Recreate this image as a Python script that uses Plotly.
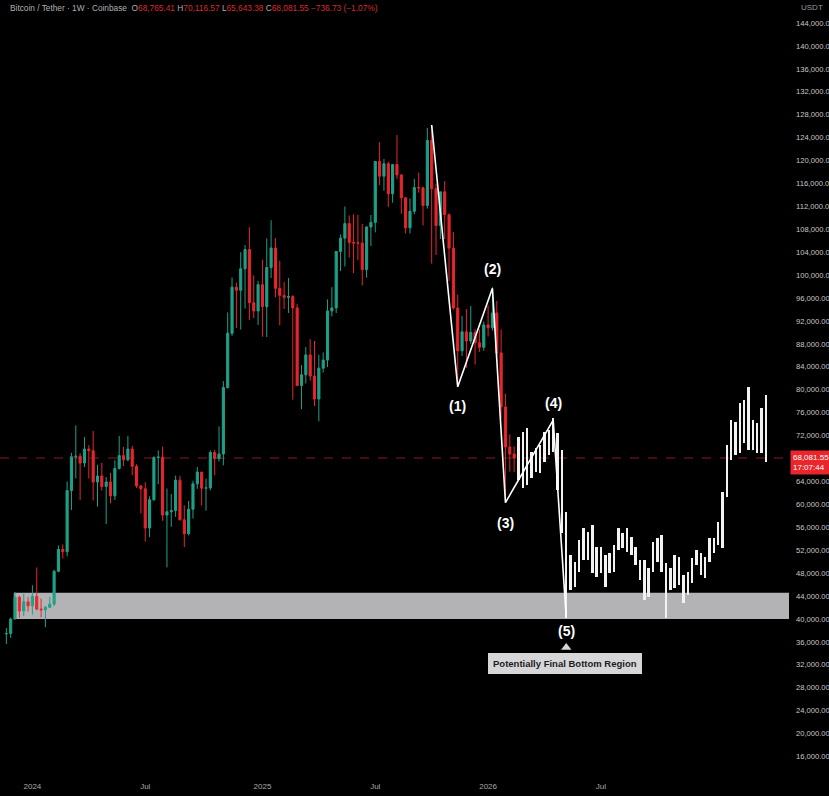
import pandas as pd
import plotly.graph_objects as go

# ---------------- data ----------------
candle_start = "2023-11-20"
opens = [37400, 37450, 39970, 43790, 41370, 42990,
         42280, 43930, 41730, 41580, 42030, 42580, 48300, 52140, 51730, 62390, 68300, 68390, 67210,
         69650, 69360, 63900, 64940, 63120, 63900, 61480, 66270, 68500, 67760, 69650, 66640, 63210,
         62700, 55860, 60790, 68160, 68250, 58120, 58710, 58920, 64220, 57300, 54870, 59130, 63580,
         65620, 62820, 62870, 69030, 67970, 68780, 80380, 89850, 97900, 97360, 101110, 104460, 95190,
         93740, 98330, 94500, 101330, 104730, 97690, 96460, 96120, 96260, 94270, 80730, 82600, 86080,
         82390, 78370, 83760, 85170, 93750, 94280, 104120, 106450, 109000, 105700, 105600, 105590,
         100960, 108390, 109200, 119840, 117270, 119450, 114200, 119290, 117490, 113490, 108250,
         111140, 115270, 115230, 112160, 123500, 115070, 108660, 114530, 110540, 104720, 94260,
         86800, 90100, 88500, 90000, 88200, 87400, 91300, 90800, 93400, 86400, 77000, 70000, 68765]
highs = [38400, 40250, 44700, 44040, 44400, 43800,
         45880, 48970, 43580, 42250, 43880, 48590, 52820, 52990, 64000, 69000, 73780, 68920, 71770,
         70330, 72800, 66900, 67250, 64750, 65500, 67700, 71950, 70000, 71950, 70200, 66990, 63380,
         63860, 61400, 68380, 69400, 70080, 62750, 61800, 65000, 64990, 59800, 60600, 64130, 66500,
         65650, 64480, 69400, 69520, 73600, 81500, 93480, 99590, 98700, 104000, 105250, 108350, 99960,
         99000, 102700, 106400, 109590, 106460, 102500, 98830, 99500, 96500, 95000, 84300, 87450,
         88800, 88500, 86100, 86500, 95760, 97900, 104150, 107100, 111980, 110420, 110600, 110530,
         108950, 108530, 110500, 119900, 123200, 120250, 119800, 119300, 124470, 117620, 113650,
         113380, 116800, 117900, 115450, 125700, 126200, 115970, 114000, 116400, 110760, 107500,
         96600, 92900, 94100, 94600, 90600, 90500, 91900, 94700, 97900, 95500, 90500, 79300, 72200, 70117]
lows = [35600, 36700, 39970, 40200, 40500, 41300,
        40750, 41500, 40280, 38550, 41880, 42250, 48150, 50520, 50900, 59000, 64550, 60760, 66500,
        64500, 60660, 59600, 62400, 56550, 60190, 60750, 66070, 66670, 67500, 65080, 62850, 58400,
        53500, 54260, 60630, 63500, 57120, 49000, 56070, 57800, 57200, 52550, 54580, 57500, 62700,
        59800, 58900, 62450, 65050, 67450, 66800, 80200, 89400, 90800, 90500, 94150, 92180, 92500,
        91300, 89250, 89200, 99500, 96150, 91230, 94090, 93400, 78260, 80600, 76600, 81100,
        81570, 77150, 74500, 83000, 83950, 92800, 93400, 100700, 101500, 103070, 100370, 102650,
        98200, 99550, 105080, 107460, 115700, 114720, 111920, 112650, 116800, 110700, 107260,
        107270, 110620, 114400, 108650, 111600, 102000, 103500, 106300, 106300, 98950, 94000,
        80600, 85900, 83800, 88000, 84400, 86600, 86800, 89300, 90300, 86000, 75000, 60300, 65700, 65643]
closes = [37450, 39970, 43790, 41370, 42990, 42280,
          43930, 41730, 41580, 42030, 42580, 48300, 52140, 51730, 62390, 68300, 68390, 67210, 69650,
          69360, 63900, 64940, 63120, 63900, 61480, 66270, 68500, 67760, 69650, 66640, 63210, 62700,
          55860, 60790, 68160, 68250, 58120, 58710, 58920, 64220, 57300, 54870, 59130, 63580, 65620,
          62820, 62870, 69030, 67970, 68780, 80380, 89850, 97900, 97360, 101110, 104460, 95190, 93740,
          98330, 94500, 101330, 104730, 97690, 96460, 96120, 96260, 94270, 80730, 82600, 86080,
          82390, 78370, 83760, 85170, 93750, 94280, 104120, 106450, 109000, 105700, 105600, 105590,
          100960, 108390, 109200, 119840, 117270, 119450, 114200, 119290, 117490, 113490, 108250,
          111140, 115270, 115230, 112160, 123500, 115070, 108660, 114530, 110540, 104720, 94260,
          86800, 90100, 88500, 90000, 88200, 87400, 91300, 90800, 93400, 86400, 77000, 70000, 68765, 68082]

proj_start = "2026-02-23"
proj_low = [64250, 62850, 63400, 64600, 65650, 65500, 67400, 68600, 69150, 62500, 55000, 40200,
            45050, 45600, 48200, 50300, 50300, 48000, 47300, 48000, 45600, 48000, 48200, 52050,
            52400, 51700, 51150, 49400, 46800, 43300, 43850, 48200, 49950, 48200, 40200, 45050,
            45400, 45950, 42800, 44200, 46300, 49400, 47650, 47150, 49950, 51500, 52900, 52400,
            61300, 67750, 68600, 68950, 70700, 69500, 69500, 68950, 68950, 67400]
proj_high = [71750, 72650, 73350, 69150, 69850, 70350, 72650, 72950, 75100, 72450, 69500, 58650,
             51150, 49950, 53800, 55900, 55200, 56400, 52550, 52550, 51150, 51500, 52900, 55900,
             55000, 55900, 54300, 52550, 50300, 50300, 48900, 53450, 54150, 54650, 49750, 48900,
             51150, 50800, 47650, 48200, 50650, 52050, 51500, 50800, 54150, 54150, 56900, 62150,
             70350, 74700, 74350, 77700, 78200, 80500, 74700, 74200, 76800, 79100]

wave_dates = ["2025-10-06", "2025-11-17", "2026-01-12", "2026-02-02", "2026-04-20", "2026-05-11"]
wave_prices = [126200, 80500, 97700, 60300, 74700, 40200]
wave_labels = ["", "(1)", "(2)", "(3)", "(4)", "(5)"]

box_low, box_high = 40000, 44550
last_price = 68081.55
y_ticks = [v for v in range(16000, 144001, 4000) if v != 68000]
x_tick_dates = ["2024-01-01", "2024-07-01", "2025-01-06", "2025-07-07", "2026-01-05", "2026-07-06"]
x_tick_text = ["2024", "Jul", "2025", "Jul", "2026", "Jul"]

# ---------------- figure ----------------
GREEN = "#1fa088"
RED = "#e8262c"
FONT = "Liberation Sans"

cdates = pd.date_range(candle_start, periods=len(opens), freq="7D")
pdates = pd.date_range(proj_start, periods=len(proj_low), freq="7D")

fig = go.Figure()
fig.add_trace(go.Candlestick(
    x=cdates, open=opens, high=highs, low=lows, close=closes,
    increasing=dict(line=dict(color=GREEN, width=1), fillcolor=GREEN),
    decreasing=dict(line=dict(color=RED, width=1), fillcolor=RED),
    whiskerwidth=0, hoverinfo="skip", showlegend=False))

fig.add_trace(go.Bar(
    x=pdates, y=[h - l for h, l in zip(proj_high, proj_low)], base=proj_low,
    width=4.0 * 86400000, marker=dict(color="#f2f2f2", line=dict(width=0)),
    hoverinfo="skip", showlegend=False))

fig.add_trace(go.Scatter(
    x=wave_dates, y=wave_prices, mode="lines",
    line=dict(color="white", width=1.6), hoverinfo="skip", showlegend=False))

base = pd.Timestamp("2024-01-01")
x_range = [base + pd.Timedelta(weeks=-7.465), base + pd.Timedelta(weeks=174.33)]
y_range = [11888, 148014]

# bottom region box
fig.add_shape(type="rect", xref="x", yref="y", x0="2023-12-02", x1=x_range[1],
              y0=box_low, y1=box_high, fillcolor="#b3b3b5", line=dict(width=0), layer="below")
# current price line
fig.add_shape(type="line", xref="paper", yref="y", x0=0, x1=1, y0=last_price, y1=last_price,
              line=dict(color="#8e1b1b", width=1, dash="dash"), layer="below")

ann = []
shifts = {"(1)": -19, "(2)": 19, "(3)": -20, "(4)": 17, "(5)": -13}
for d, p, t in zip(wave_dates, wave_prices, wave_labels):
    if not t:
        continue
    ann.append(dict(x=d, y=p, xref="x", yref="y", text="<b>" + t + "</b>", showarrow=False,
                    yshift=shifts[t], font=dict(family=FONT, size=14, color="white")))

ann.append(dict(x=wave_dates[5], y=32300, xref="x", yref="y",
                text="<b>Potentially Final Bottom Region</b>", showarrow=False,
                font=dict(family=FONT, size=9.5, color="#1c1c1c"),
                bgcolor="#d6d6d8", bordercolor="#d6d6d8", borderpad=4, xshift=-1))

ann.append(dict(x=1, y=last_price, xref="paper", yref="y", xanchor="left", yanchor="middle",
                text="68,081.55<br>17:07:44", showarrow=False, align="left", yshift=-4, xshift=1,
                font=dict(family=FONT, size=8, color="white"), bgcolor=RED, borderpad=2))

ann.append(dict(x=1, y=1, xref="paper", yref="paper", xanchor="left", yanchor="top",
                text="USDT", showarrow=False, xshift=10, yshift=-1,
                font=dict(family=FONT, size=8, color="#9a9a9a")))

red_span = lambda s: "<span style='color:#d92b2b'>" + s + "</span>"
title = ("Bitcoin / Tether · 1W · Coinbase  O" + red_span("68,765.41") + " H" + red_span("70,116.57")
         + " L" + red_span("65,643.38") + " C" + red_span("68,081.55") + " "
         + red_span("−736.73 (−1.07%)"))
ann.append(dict(x=0, y=1, xref="paper", yref="paper", xanchor="left", yanchor="top",
                text=title, showarrow=False, xshift=8, yshift=-1,
                font=dict(family=FONT, size=8.3, color="#b0b0b0")))

fig.add_trace(go.Scatter(x=[wave_dates[5]], y=[35000], mode="markers",
                         marker=dict(symbol="triangle-up", size=9, color="#d6d6d8"),
                         hoverinfo="skip", showlegend=False))

fig.update_layout(
    width=829, height=796,
    margin=dict(l=0, r=40, t=0, b=16, autoexpand=False),
    paper_bgcolor="black", plot_bgcolor="black",
    showlegend=False, annotations=ann, bargap=0,
    xaxis=dict(type="date", range=x_range, showgrid=False, zeroline=False, automargin=False,
               rangeslider=dict(visible=False), tickvals=x_tick_dates, ticktext=x_tick_text,
               ticks="", tickfont=dict(family=FONT, size=8, color="#a8a8a8"), showline=False),
    yaxis=dict(side="right", range=y_range, showgrid=False, zeroline=False, automargin=False,
               tickvals=y_ticks, ticktext=[f"{v:,.2f}" for v in y_ticks], ticks="",
               ticklabelstandoff=6,
               tickfont=dict(family=FONT, size=7.6, color="#c8c8c8"), showline=False),
)

fig.write_html("out.html", config={"displayModeBar": False},
               post_script="document.body.style.margin='0';document.body.style.padding='0';"
                           "document.body.style.background='black';document.body.style.overflow='hidden';")
